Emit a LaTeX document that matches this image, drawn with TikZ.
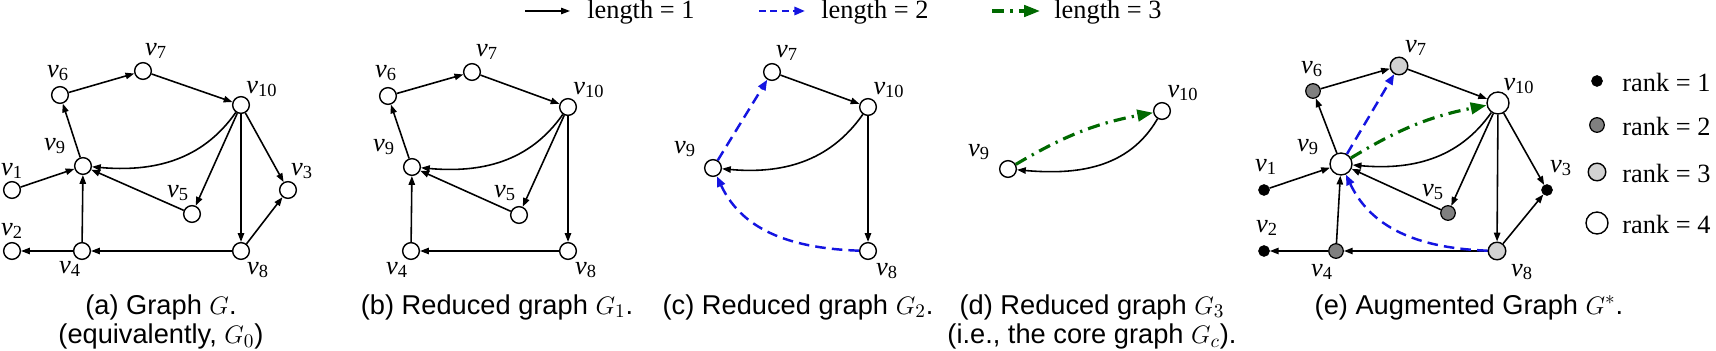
\documentclass[tikz,border=0pt]{standalone}
\usepackage{fontspec}
\setmainfont{Liberation Serif}
\setsansfont{Liberation Sans}
\usepackage{tikz}
\usetikzlibrary{arrows.meta}

\definecolor{lenblue}{RGB}{20,20,225}
\definecolor{lengreen}{RGB}{0,105,0}
\newcommand{\vl}[1]{\textit{v}\textsubscript{#1}}

\begin{document}
\begin{tikzpicture}[
  x=0.02cm, y=0.02cm,
  vtx/.style={circle, draw, fill=white, line width=0.8pt,
              minimum size=9.5pt, inner sep=0pt},
  lbl/.style={font=\fontsize{15}{18}\selectfont, inner sep=0pt},
  captext/.style={font=\sffamily\fontsize{15.5}{17}\selectfont, align=center, inner sep=0pt},
  keytext/.style={font=\fontsize{15}{18}\selectfont, anchor=west, inner sep=0pt},
  edge/.style={-{Triangle[length=5pt,width=3.6pt]}, line width=0.9pt},
  lentwo/.style={-{Triangle[length=6pt,width=4.6pt]}, draw=lenblue,
                 line width=1.4pt, dash pattern=on 6pt off 3.5pt},
  lenthree/.style={-{Triangle[length=9pt,width=6.5pt]}, draw=lengreen,
                   line width=1.8pt, dash pattern=on 7pt off 3.5pt on 1.3pt off 3.5pt},
  rankone/.style={circle, draw, fill=black, line width=0.6pt, minimum size=6pt, inner sep=0pt},
  ranktwo/.style={circle, draw, fill=gray, line width=0.7pt, minimum size=8.3pt, inner sep=0pt},
  rankthree/.style={circle, draw, fill=gray!35, line width=0.8pt, minimum size=10pt, inner sep=0pt},
  rankfour/.style={circle, draw, fill=white, line width=0.8pt, minimum size=12.5pt, inner sep=0pt},
]
\useasboundingbox (0,0) rectangle (1716,-351);

% legend of path lengths
\coordinate (k1a) at (525,-11);
\coordinate (k1b) at (570,-11);
\draw[edge, line width=0.7pt] (k1a) -- (k1b);
\node[keytext] (k1t) at (587,-12) {length = 1};
\coordinate (k2a) at (759,-11);
\coordinate (k2b) at (805,-11);
\draw[lentwo, dash pattern=on 4pt off 2.5pt] (k2a) -- (k2b);
\node[keytext] (k2t) at (821,-12) {length = 2};
\coordinate (k3a) at (992,-11);
\coordinate (k3b) at (1040,-11);
\draw[lenthree] (k3a) -- (k3b);
\node[keytext] (k3t) at (1054,-12) {length = 3};

% (a) graph G
\node[vtx] (a1) at (12,-190) {};
\node[vtx] (a2) at (12,-251) {};
\node[vtx] (a3) at (288,-190) {};
\node[vtx] (a4) at (82,-251) {};
\node[vtx] (a5) at (192,-214) {};
\node[vtx] (a6) at (60,-95) {};
\node[vtx] (a7) at (143,-71) {};
\node[vtx] (a8) at (241,-251) {};
\node[vtx] (a9) at (83,-166) {};
\node[vtx] (a10) at (241,-105) {};
\node[lbl] (la1) at (12,-171) {\vl{1}};
\node[lbl] (la2) at (12,-231) {\vl{2}};
\node[lbl] (la3) at (302,-171) {\vl{3}};
\node[lbl] (la4) at (70,-269) {\vl{4}};
\node[lbl] (la5) at (178,-193) {\vl{5}};
\node[lbl] (la6) at (58,-73) {\vl{6}};
\node[lbl] (la7) at (156,-51) {\vl{7}};
\node[lbl] (la8) at (258,-270) {\vl{8}};
\node[lbl] (la9) at (55,-146) {\vl{9}};
\node[lbl] (la10) at (262,-89) {\vl{10}};
\draw[edge] (a6) -- (a7);
\draw[edge] (a7) -- (a10);
\draw[edge] (a9) -- (a6);
\draw[edge] (a1) -- (a9);
\draw[edge] (a10) to[out=235, in=-5] (a9);
\draw[edge] (a10) -- (a5);
\draw[edge] (a10) -- (a8);
\draw[edge] (a10) -- (a3);
\draw[edge] (a5) -- (a9);
\draw[edge] (a8) -- (a3);
\draw[edge] (a8) -- (a4);
\draw[edge] (a4) -- (a9);
\draw[edge] (a4) -- (a2);
\node[captext] (capa) at (161,-322) {(a) Graph $G$.\\(equivalently, $G_0$)};

% (b) reduced graph G1
\node[vtx] (b4) at (411,-251) {};
\node[vtx] (b5) at (519,-215) {};
\node[vtx] (b6) at (388,-96) {};
\node[vtx] (b7) at (472,-72) {};
\node[vtx] (b8) at (568,-251) {};
\node[vtx] (b9) at (412,-167) {};
\node[vtx] (b10) at (568,-107) {};
\node[lbl] (lb4) at (397,-270) {\vl{4}};
\node[lbl] (lb5) at (505,-193) {\vl{5}};
\node[lbl] (lb6) at (386,-73) {\vl{6}};
\node[lbl] (lb7) at (487,-52) {\vl{7}};
\node[lbl] (lb8) at (586,-270) {\vl{8}};
\node[lbl] (lb9) at (384,-147) {\vl{9}};
\node[lbl] (lb10) at (589,-90) {\vl{10}};
\draw[edge] (b6) -- (b7);
\draw[edge] (b7) -- (b10);
\draw[edge] (b9) -- (b6);
\draw[edge] (b10) to[out=235, in=-5] (b9);
\draw[edge] (b10) -- (b5);
\draw[edge] (b10) -- (b8);
\draw[edge] (b5) -- (b9);
\draw[edge] (b8) -- (b4);
\draw[edge] (b4) -- (b9);
\node[captext] (capb) at (497,-307) {(b) Reduced graph $G_1$.};

% (c) reduced graph G2
\node[vtx] (c7) at (772,-72) {};
\node[vtx] (c8) at (868,-251) {};
\node[vtx] (c9) at (713,-168) {};
\node[vtx] (c10) at (868,-107) {};
\node[lbl] (lc7) at (787,-53) {\vl{7}};
\node[lbl] (lc8) at (887,-271) {\vl{8}};
\node[lbl] (lc9) at (685,-149) {\vl{9}};
\node[lbl] (lc10) at (889,-90) {\vl{10}};
\draw[edge] (c7) -- (c10);
\draw[edge] (c10) to[out=235, in=-5] (c9);
\draw[edge] (c10) -- (c8);
\draw[lentwo] (c9) -- (c7);
\draw[lentwo] (c8) to[out=178, in=-65] (c9);
\node[captext] (capc) at (798,-307) {(c) Reduced graph $G_2$.};

% (d) core graph
\node[vtx] (d9) at (1008,-169) {};
\node[vtx] (d10) at (1162,-111) {};
\node[lbl] (ld9) at (979,-152) {\vl{9}};
\node[lbl] (ld10) at (1183,-93) {\vl{10}};
\draw[lenthree] (d9) to[bend left=10] (d10);
\draw[edge] (d10) to[out=240, in=-5] (d9);
\node[captext] (capd) at (1092,-322) {(d) Reduced graph $G_3$\\(i.e., the core graph $G_c$).};

% (e) augmented graph G*
\node[rankone] (e1) at (1264,-190) {};
\node[rankone] (e2) at (1264,-251) {};
\node[rankone] (e3) at (1547,-190) {};
\node[ranktwo] (e4) at (1336,-251) {};
\node[ranktwo] (e5) at (1448,-213) {};
\node[ranktwo] (e6) at (1313,-91) {};
\node[rankthree] (e7) at (1399,-66) {};
\node[rankthree] (e8) at (1497,-251) {};
\node[rankfour] (e9) at (1341,-164) {};
\node[rankfour] (e10) at (1498,-103) {};
\node[lbl] (le1) at (1266,-167) {\vl{1}};
\node[lbl] (le2) at (1267,-228) {\vl{2}};
\node[lbl] (le3) at (1561,-168) {\vl{3}};
\node[lbl] (le4) at (1322,-272) {\vl{4}};
\node[lbl] (le5) at (1433,-192) {\vl{5}};
\node[lbl] (le6) at (1312,-69) {\vl{6}};
\node[lbl] (le7) at (1416,-48) {\vl{7}};
\node[lbl] (le8) at (1522,-272) {\vl{8}};
\node[lbl] (le9) at (1308,-147) {\vl{9}};
\node[lbl] (le10) at (1519,-86) {\vl{10}};
\draw[edge] (e6) -- (e7);
\draw[edge] (e7) -- (e10);
\draw[edge] (e9) -- (e6);
\draw[edge] (e1) -- (e9);
\draw[edge] (e10) to[out=235, in=-5] (e9);
\draw[edge] (e10) -- (e5);
\draw[edge] (e10) -- (e8);
\draw[edge] (e10) -- (e3);
\draw[edge] (e5) -- (e9);
\draw[edge] (e8) -- (e3);
\draw[edge] (e8) -- (e4);
\draw[edge] (e4) -- (e9);
\draw[edge] (e4) -- (e2);
\draw[lentwo] (e9) -- (e7);
\draw[lentwo] (e8) to[out=178, in=-65] (e9);
\draw[lenthree] (e9) to[bend left=10] (e10);
\node[captext] (cape) at (1469,-307) {(e) Augmented Graph $G^{*}$.};

% legend of ranks
\node[rankone] (rk1) at (1597,-81) {};
\node[ranktwo] (rk2) at (1597,-125) {};
\node[rankthree] (rk3) at (1597,-172) {};
\node[rankfour] (rk4) at (1597,-223) {};
\node[keytext] (rt1) at (1622,-82) {rank = 1};
\node[keytext] (rt2) at (1622,-126) {rank = 2};
\node[keytext] (rt3) at (1622,-173) {rank = 3};
\node[keytext] (rt4) at (1622,-224) {rank = 4};

\end{tikzpicture}
\end{document}
